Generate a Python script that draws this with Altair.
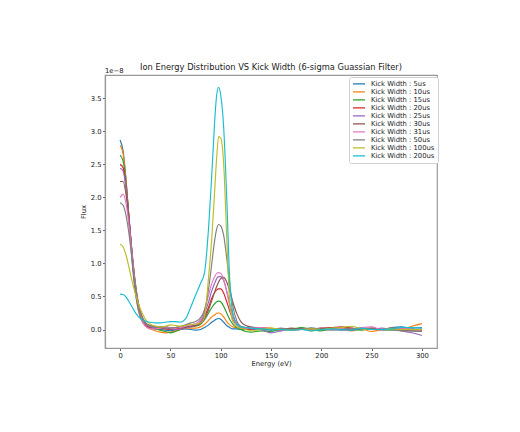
import altair as alt
import pandas as pd

energy = [0, 3, 6, 9, 12, 15, 18, 21,
          25, 30, 35, 40, 45, 50, 55, 60, 65, 70, 75, 80,
          84, 88, 91, 94, 96, 98, 100, 103, 106, 109, 112, 116, 120, 125, 130,
          140, 150, 160, 170, 180, 190, 200, 210, 220, 230, 240, 250, 260, 270, 280, 290, 300]

labels = ["Kick Width : 5us", "Kick Width : 10us", "Kick Width : 15us", "Kick Width : 20us",
          "Kick Width : 25us", "Kick Width : 30us", "Kick Width : 31us", "Kick Width : 50us",
          "Kick Width : 100us", "Kick Width : 200us"]
colors = ["#1f77b4", "#ff7f0e", "#2ca02c", "#d62728", "#9467bd",
          "#8c564b", "#e377c2", "#7f7f7f", "#bcbd22", "#17becf"]

kw5 = [2.87, 2.70, 2.25, 1.62, 1.02, 0.58, 0.30, 0.15,
       0.06, 0.02, 0.01, 0.00, -0.01, -0.02, -0.01, 0.00, 0.01, 0.00, -0.01, 0.00,
       0.03, 0.07, 0.11, 0.14, 0.16, 0.167, 0.155, 0.11, 0.06, 0.03, 0.01, 0.01, 0.00, 0.00, 0.01,
       0.00, -0.01, 0.00, 0.01, 0.00, 0.02, 0.01, 0.00, -0.01, 0.00, 0.01, 0.00, 0.00, 0.03, 0.04, 0.02, 0.03]
kw10 = [2.79, 2.66, 2.24, 1.66, 1.08, 0.63, 0.33, 0.16,
        0.06, 0.01, -0.02, -0.04, -0.05, -0.04, -0.02, 0.00, 0.02, 0.02, 0.02, 0.04,
        0.08, 0.14, 0.19, 0.22, 0.245, 0.25, 0.24, 0.19, 0.12, 0.07, 0.04, 0.03, 0.03, 0.02, 0.01,
        0.03, 0.02, -0.01, 0.00, 0.02, -0.02, 0.00, 0.02, 0.00, -0.02, 0.01, -0.03, 0.00, 0.02, 0.00, 0.05, 0.09]
kw15 = [2.64, 2.55, 2.20, 1.67, 1.11, 0.66, 0.36, 0.19,
        0.08, 0.03, 0.01, -0.01, -0.03, -0.05, -0.03, 0.00, 0.03, 0.04, 0.05, 0.08,
        0.15, 0.25, 0.33, 0.39, 0.42, 0.43, 0.42, 0.35, 0.25, 0.15, 0.08, 0.03, 0.00, -0.03, -0.04,
        -0.02, -0.03, 0.00, 0.00, 0.03, 0.00, -0.02, 0.01, 0.03, 0.00, -0.01, 0.02, 0.00, -0.01, 0.01, 0.00, 0.00]
kw20 = [2.50, 2.45, 2.15, 1.66, 1.12, 0.68, 0.37, 0.19,
        0.08, 0.03, 0.02, 0.02, 0.01, 0.00, 0.01, 0.02, 0.03, 0.05, 0.06, 0.10,
        0.20, 0.34, 0.47, 0.56, 0.60, 0.615, 0.615, 0.55, 0.42, 0.28, 0.16, 0.07, 0.03, 0.01, 0.00,
        0.02, 0.00, 0.01, -0.01, 0.00, 0.01, 0.02, 0.03, 0.04, 0.02, 0.00, 0.01, 0.00, 0.00, 0.01, 0.00, -0.01]
kw25 = [2.44, 2.40, 2.13, 1.67, 1.14, 0.70, 0.39, 0.21,
        0.09, 0.04, 0.03, 0.03, 0.02, 0.01, 0.00, 0.00, 0.02, 0.04, 0.06, 0.12,
        0.25, 0.42, 0.58, 0.70, 0.77, 0.80, 0.80, 0.74, 0.58, 0.39, 0.23, 0.09, 0.04, 0.02, 0.01,
        0.00, -0.05, -0.02, 0.00, 0.01, 0.00, 0.02, 0.00, 0.00, -0.01, 0.03, 0.00, 0.02, 0.00, -0.02, -0.05, -0.09]
kw30 = [2.24, 2.24, 2.03, 1.64, 1.16, 0.73, 0.42, 0.23,
        0.11, 0.06, 0.05, 0.04, 0.04, 0.03, 0.03, 0.03, 0.04, 0.05, 0.06, 0.09,
        0.17, 0.30, 0.43, 0.57, 0.65, 0.72, 0.77, 0.79, 0.72, 0.58, 0.42, 0.24, 0.12, 0.06, 0.04,
        0.02, 0.01, 0.00, 0.02, 0.01, 0.00, 0.01, 0.02, 0.01, 0.00, 0.01, 0.02, 0.00, 0.00, -0.01, -0.02, -0.03]
kw31 = [2.00, 2.05, 1.90, 1.56, 1.12, 0.70, 0.39, 0.19,
        0.05, 0.01, 0.01, 0.02, 0.04, 0.03, 0.02, 0.03, 0.05, 0.07, 0.09, 0.15,
        0.30, 0.52, 0.69, 0.80, 0.85, 0.86, 0.85, 0.76, 0.57, 0.36, 0.19, 0.07, 0.03, 0.02, 0.02,
        0.03, 0.01, 0.00, -0.01, 0.00, 0.01, 0.00, 0.00, 0.02, 0.01, 0.03, 0.04, 0.00, 0.00, 0.02, 0.00, 0.01]
kw50 = [1.92, 1.88, 1.72, 1.43, 1.05, 0.68, 0.40, 0.22,
        0.11, 0.05, 0.04, 0.03, 0.02, 0.02, 0.03, 0.05, 0.07, 0.10, 0.12, 0.18,
        0.30, 0.62, 0.98, 1.35, 1.52, 1.59, 1.57, 1.42, 1.08, 0.68, 0.36, 0.13, 0.05, 0.03, 0.02,
        0.01, 0.00, 0.02, 0.00, 0.01, 0.02, 0.00, -0.01, 0.00, 0.02, 0.00, 0.01, -0.01, 0.00, -0.02, -0.02, -0.03]
kw100 = [1.29, 1.25, 1.12, 0.93, 0.73, 0.55, 0.40, 0.28,
         0.16, 0.08, 0.05, 0.04, 0.05, 0.07, 0.06, 0.05, 0.06, 0.08, 0.08, 0.10,
         0.20, 0.80, 1.35, 2.10, 2.60, 2.92, 2.90, 2.50, 1.40, 0.40, 0.12, 0.04, 0.02, 0.00, -0.02,
         0.00, 0.02, 0.00, -0.01, 0.00, 0.01, 0.00, 0.02, 0.03, 0.05, 0.01, 0.00, 0.00, 0.01, 0.00, 0.00, 0.00]
kw200 = [0.535, 0.53, 0.49, 0.42, 0.34, 0.26, 0.20, 0.16,
         0.13, 0.11, 0.10, 0.10, 0.11, 0.12, 0.12, 0.11, 0.16, 0.33, 0.52, 0.70,
         0.87, 1.55, 2.30, 3.15, 3.55, 3.667, 3.55, 3.05, 2.00, 0.75, 0.25, 0.08, 0.04, 0.03, 0.02,
         0.01, 0.00, 0.00, -0.01, 0.00, -0.02, 0.00, 0.01, 0.00, -0.01, 0.02, 0.00, 0.00, 0.01, 0.03, 0.03, 0.02]

series = [kw5, kw10, kw15, kw20, kw25, kw30, kw31, kw50, kw100, kw200]

x_ticks = [0, 50, 100, 150, 200, 250, 300]
y_ticks = [0.0, 0.5, 1.0, 1.5, 2.0, 2.5, 3.0, 3.5]

rows = []
for i, (lab, ys) in enumerate(zip(labels, series)):
    for e, v in zip(energy, ys):
        rows.append({"Energy": e, "Flux": v, "Series": lab, "k": i})
df = pd.DataFrame(rows)

FONT = "DejaVu Sans"
AXC = "#999999"

lines = alt.Chart(df).mark_line(strokeWidth=1.15, interpolate="monotone").encode(
    x=alt.X("Energy:Q",
            scale=alt.Scale(domain=[-15, 315], nice=False, zero=False),
            axis=alt.Axis(values=x_ticks, title="Energy (eV)", format="d")),
    y=alt.Y("Flux:Q",
            scale=alt.Scale(domain=[-0.28, 3.853], nice=False, zero=False),
            axis=alt.Axis(values=y_ticks, title="Flux", format=".1f")),
    color=alt.Color("Series:N",
                    scale=alt.Scale(domain=labels, range=colors),
                    legend=alt.Legend(title=None, orient="none", legendX=244, legendY=2,
                                      symbolType="stroke", symbolSize=144, symbolStrokeWidth=1.2,
                                      labelFontSize=6.8, labelFont=FONT, labelColor="#222",
                                      clipHeight=7.6, rowPadding=0, labelOffset=5,
                                      padding=3, strokeColor="#d0d0d0", fillColor="white",
                                      cornerRadius=2)),
    detail="k:O",
)

offset_text = alt.Chart(pd.DataFrame({"t": ["1e\u22128"]})).mark_text(
    align="left", baseline="bottom", fontSize=6.8, font=FONT, color="#222"
).encode(x=alt.value(0), y=alt.value(-1), text="t:N")

chart = alt.layer(lines, offset_text).properties(
    width=332, height=273,
    title=alt.TitleParams("Ion Energy Distribution VS Kick Width (6-sigma Guassian Filter)",
                          fontSize=8.3, font=FONT, fontWeight="normal", color="#222",
                          anchor="middle", frame="group", offset=3, dy=6),
    autosize=alt.AutoSizeParams(type="none"),
    padding={"left": 97, "top": 67, "right": 60, "bottom": 60},
).configure_view(stroke=AXC, strokeWidth=1.2).configure_axis(
    grid=False, domainColor=AXC, domainWidth=1.2, tickColor="#666", tickSize=2.5,
    labelFont=FONT, labelFontSize=6.8, labelColor="#222", labelPadding=1.5,
    titleFont=FONT, titleFontSize=6.8, titleFontWeight="normal", titleColor="#222",
).configure_axisY(titlePadding=4).configure_axisX(titlePadding=2)

chart.save("out.html", embed_options={"renderer": "svg", "actions": False})
